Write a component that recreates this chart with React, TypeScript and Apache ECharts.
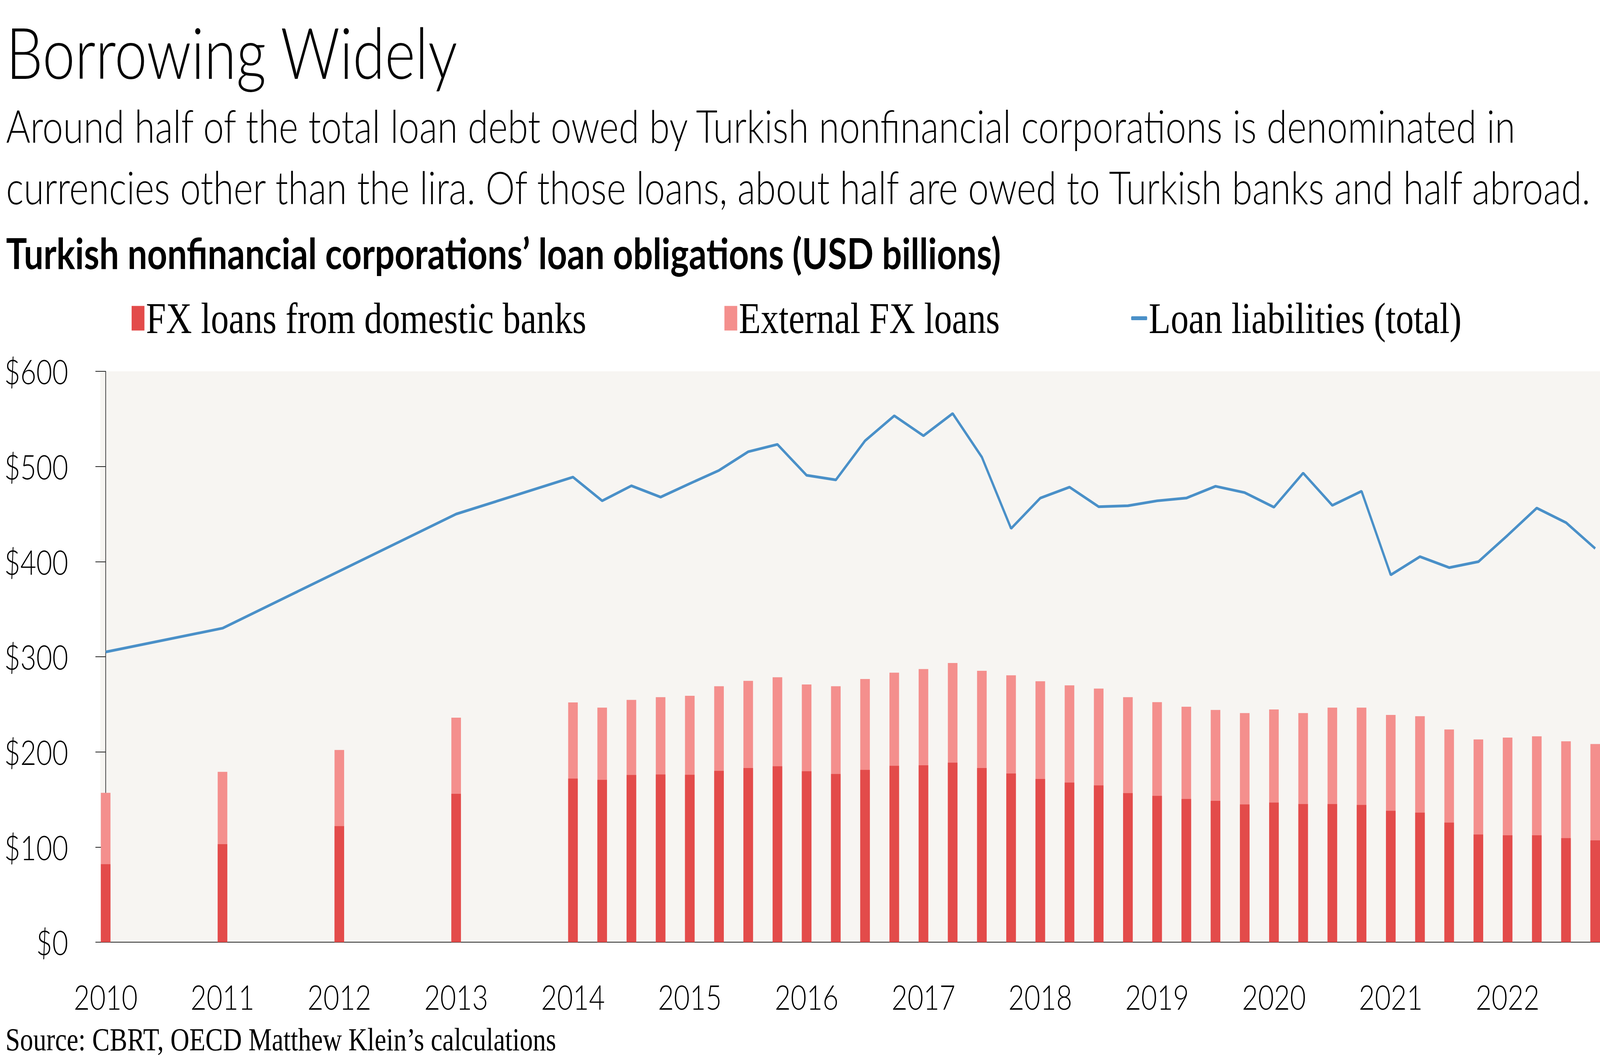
import React, { useEffect, useRef, useState } from 'react';
import * as echarts from 'echarts';

// Periods: annual observations 2010-2013, quarterly from 2014 on
const PERIODS = [
  '2010Q1', '2011Q1', '2012Q1', '2013Q1',
  '2014Q1', '2014Q2', '2014Q3', '2014Q4',
  '2015Q1', '2015Q2', '2015Q3', '2015Q4',
  '2016Q1', '2016Q2', '2016Q3', '2016Q4',
  '2017Q1', '2017Q2', '2017Q3', '2017Q4',
  '2018Q1', '2018Q2', '2018Q3', '2018Q4',
  '2019Q1', '2019Q2', '2019Q3', '2019Q4',
  '2020Q1', '2020Q2', '2020Q3', '2020Q4',
  '2021Q1', '2021Q2', '2021Q3', '2021Q4',
  '2022Q1', '2022Q2', '2022Q3', '2022Q4',
];

// USD billions
const DOMESTIC_FX = [
  82, 103, 122, 156,
  172, 170.6, 175.8, 176.3,
  176, 180.1, 183, 184.9,
  179.6, 176.8, 181.1, 185.4,
  185.9, 188.7, 183, 177.3,
  171.5, 167.7, 164.8, 156.7,
  153.8, 150.5, 148.6, 144.8,
  146.7, 145.2, 145.2, 144.3,
  138.1, 136.2, 125.7, 113.2,
  112.3, 112.3, 109.4, 107,
];

const EXTERNAL_FX = [
  75, 76, 80, 80,
  80, 75.9, 78.9, 81.2,
  83, 88.9, 91.7, 93.6,
  91.3, 92.2, 95.5, 97.9,
  101.2, 104.7, 102.2, 103.2,
  102.7, 102.2, 101.8, 100.8,
  98.5, 97, 95.5, 96,
  97.9, 95.6, 101.3, 102.2,
  100.8, 101.3, 97.9, 99.9,
  102.7, 104.1, 101.8, 101.3,
];

const TOTAL_LOANS = [
  305, 330, 390, 450,
  488.8, 463.9, 479.7, 467.8,
  482, 495.9, 515.5, 523.2,
  490.7, 485.9, 527, 553.3,
  532.3, 555.7, 509.8, 434.8,
  466.8, 478.3, 457.7, 458.7,
  463.9, 466.8, 479.2, 472.5,
  457.2, 493.1, 459.1, 474,
  386, 405.2, 393.7, 399.9,
  427.6, 456.3, 441, 413.8,
];

const YEAR_LABELS = [
  '2010', '2011', '2012', '2013', '2014', '2015', '2016',
  '2017', '2018', '2019', '2020', '2021', '2022',
];

const TITLE = 'Borrowing Widely';
const SUBTITLE_1 = 'Around half of the total loan debt owed by Turkish nonfinancial corporations is denominated in';
const SUBTITLE_2 = 'currencies other than the lira. Of those loans, about half are owed to Turkish banks and half abroad.';
const CHART_TITLE = 'Turkish nonfinancial corporations\u2019 loan obligations (USD billions)';
const SOURCE = 'Source: CBRT, OECD Matthew Klein\u2019s calculations';

const S_DOM = 'FX loans from domestic banks';
const S_EXT = 'External FX loans';
const S_TOT = 'Loan liabilities (total)';

const BASE_YEAR = 2010;
const periodIndex = (p: string) => (parseInt(p.slice(0, 4), 10) - BASE_YEAR) * 4 + (parseInt(p.slice(5), 10) - 1);

const DESIGN_W = 4996;
const DESIGN_H = 2725;

export default function App() {
  const ref = useRef<HTMLDivElement | null>(null);
  const [scale, setScale] = useState<[number, number]>([1, 1]);

  useEffect(() => {
    document.documentElement.style.overflow = 'hidden';
    document.body.style.overflow = 'hidden';
    document.body.style.margin = '0';
    const w = window.innerWidth || DESIGN_W;
    const h = window.innerHeight || DESIGN_H;
    setScale([w / DESIGN_W, h / DESIGN_H]);
  }, []);

  useEffect(() => {
    if (!ref.current) return;
    const chart = echarts.init(ref.current, undefined, { renderer: 'svg' });

    const xs = PERIODS.map(periodIndex);
    const domData = xs.map((x, i) => [x, DOMESTIC_FX[i]]);
    const stackTopData = xs.map((x, i) => [x, DOMESTIC_FX[i] + EXTERNAL_FX[i]]);
    const totData = xs.map((x, i) => [x, TOTAL_LOANS[i]]);

    const sans = 'Lato';
    const serif = '"Liberation Serif", "Times New Roman", serif';

    const legendText = { fontFamily: serif, fontSize: 112, lineHeight: 112, color: '#000' };

    chart.setOption({
      animation: false,
      backgroundColor: '#ffffff',
      textStyle: { fontFamily: sans },
      grid: {
        left: 313,
        right: 0,
        top: 951,
        bottom: 312,
        show: true,
        backgroundColor: '#f7f5f2',
        borderWidth: 0,
      },
      xAxis: {
        type: 'value',
        min: -0.186,
        max: 51.164,
        axisLine: { show: true, onZero: false, lineStyle: { color: '#222', width: 2 } },
        axisTick: { show: false },
        splitLine: { show: false },
        axisLabel: {
          customValues: YEAR_LABELS.map((y) => periodIndex(y + 'Q1')),
          formatter: (v: number) => String(BASE_YEAR + Math.round(v / 4)),
          fontFamily: sans,
          fontWeight: 300,
          fontSize: 86,
          color: '#000',
          margin: 97,
        },
      },
      yAxis: {
        type: 'value',
        min: 0,
        max: 600,
        interval: 100,
        axisLine: { show: true, lineStyle: { color: '#222', width: 2 } },
        axisTick: { show: true, length: 32, lineStyle: { color: '#222', width: 2 } },
        splitLine: { show: false },
        axisLabel: {
          formatter: '${value}',
          fontFamily: sans,
          fontWeight: 300,
          fontSize: 86,
          color: '#000',
          margin: 100,
        },
      },
      legend: [
        {
          data: [{ name: S_DOM, icon: 'rect' }],
          left: 411, top: 759, padding: 0,
          itemWidth: 40, itemHeight: 63,
          selectedMode: false,
          textStyle: legendText,
        },
        {
          data: [{ name: S_EXT, icon: 'rect' }],
          left: 2262, top: 759, padding: 0,
          itemWidth: 40, itemHeight: 63,
          selectedMode: false,
          textStyle: legendText,
        },
        {
          data: [{ name: S_TOT, icon: 'roundRect' }],
          left: 3532, top: 759, padding: 0,
          itemWidth: 50, itemHeight: 10,
          selectedMode: false,
          textStyle: legendText,
        },
      ],
      series: [
        {
          name: S_EXT,
          type: 'bar',
          data: stackTopData,
          barWidth: 30,
          barGap: '-100%',
          itemStyle: { color: '#f48f8d' },
        },
        {
          name: S_DOM,
          type: 'bar',
          data: domData,
          barWidth: 30,
          barGap: '-100%',
          itemStyle: { color: '#e34b4a' },
        },
        {
          name: S_TOT,
          type: 'line',
          data: totData,
          symbol: 'none',
          lineStyle: { width: 7, color: '#4a90c8' },
          itemStyle: { color: '#4a90c8' },
          z: 4,
        },
      ],
      graphic: [
        {
          type: 'text', x: 19, y: 131,
          style: { text: TITLE, fontFamily: sans, fontWeight: 300, fontSize: 182, fill: '#000', verticalAlign: 'middle', align: 'left' },
        },
        {
          type: 'text', x: 19, y: 321,
          style: { text: SUBTITLE_1, fontFamily: sans, fontWeight: 300, fontSize: 116, fill: '#000', verticalAlign: 'middle', align: 'left' },
        },
        {
          type: 'text', x: 19, y: 478,
          style: { text: SUBTITLE_2, fontFamily: sans, fontWeight: 300, fontSize: 116, fill: '#000', verticalAlign: 'middle', align: 'left' },
        },
        {
          type: 'text', x: 19, y: 647,
          style: { text: CHART_TITLE, fontFamily: sans, fontWeight: 700, fontSize: 109, fill: '#000', verticalAlign: 'middle', align: 'left' },
        },
        {
          type: 'text', x: 17, y: 2662,
          style: { text: SOURCE, fontFamily: serif, fontSize: 82, fill: '#000', verticalAlign: 'middle', align: 'left' },
        },
      ],
    });

    return () => chart.dispose();
  }, []);

  return (
    <div
      style={{
        position: 'fixed', left: 0, top: 0, width: DESIGN_W, height: DESIGN_H,
        transformOrigin: '0 0', transform: `scale(${scale[0]}, ${scale[1]})`, background: '#fff',
      }}
    >
      <div ref={ref} style={{ width: DESIGN_W, height: DESIGN_H }} />
    </div>
  );
}
